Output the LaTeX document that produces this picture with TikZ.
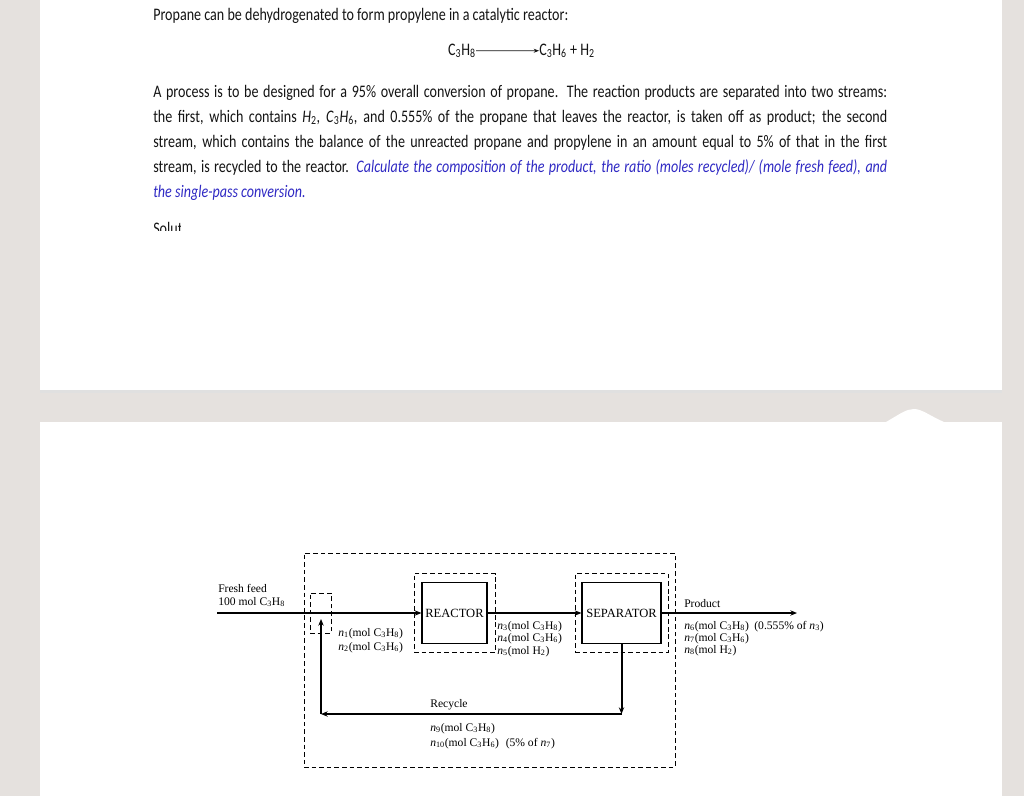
\documentclass[tikz,border=0pt]{standalone}
\usepackage{fontspec}
\setmainfont{Liberation Serif}
\newfontfamily\probfont[FakeStretch=0.8]{Carlito}
\usetikzlibrary{arrows.meta, positioning}

\definecolor{pagegray}{RGB}{229,225,222}
\definecolor{askblue}{RGB}{48,42,196}
\definecolor{inkgray}{RGB}{20,20,20}

\newcommand{\nm}[1]{\textit{n}\textsubscript{#1}}
\newcommand{\propane}{C\textsubscript{3}H\textsubscript{8}}
\newcommand{\propene}{C\textsubscript{3}H\textsubscript{6}}
\newcommand{\hydro}{H\textsubscript{2}}

\begin{document}
\begin{tikzpicture}[
    x=0.75pt, y=-0.75pt,
    unit/.style={rectangle, draw, line width=0.9pt, minimum height=45.75pt,
                inner sep=0pt, font=\fontsize{9.4}{10}\selectfont},
    envelope/.style={rectangle, draw, dash pattern=on 3.5pt off 2.2pt,
                line width=0.7pt, inner sep=0pt},
    stream/.style={line width=1.5pt, -{Stealth[length=5pt, width=4pt]}},
    lbl/.style={anchor=base west, inner sep=0pt, align=left,
                font=\fontsize{8.7}{10}\selectfont},
    toptext/.style={anchor=base west, inner sep=0pt, text=inkgray,
                font=\probfont\fontsize{13.2}{15}\selectfont}
]

% === PAGE ===
\fill[pagegray] (0,0) rectangle (1024,796);
\fill[white] (40,0) rectangle (1002,390);
\fill[black!12] (40,390) rectangle (1002,392.5);
\fill[white] (40,422) rectangle (1002,796);
\fill[white] (886,422) .. controls (900,414) and (906,409) .. (914,409)
    .. controls (922,409) and (930,416) .. (944,422) -- cycle;

% === PROBLEM TEXT ===
\node[toptext] (intro) at (153,20) {Propane can be dehydrogenated to form propylene in a catalytic reactor:};
\node[toptext, anchor=base east] (reactant) at (476,55) {\propane};
\node[toptext] (products) at (539,55) {\propene{} + \hydro};
\draw[inkgray, line width=0.5pt, -{Stealth[length=4pt, width=3pt]}] (reactant.east) -- (products.west);

\node[toptext] (line1) at (153,97) {\makebox[550.5pt][s]{A process is to be designed for a 95\% overall conversion of propane. The reaction products are separated into two streams:}};
\node[toptext] (line2) at (153,122) {\makebox[550.5pt][s]{the first, which contains \textit{H}\textsubscript{2}, \textit{C}\textsubscript{3}\textit{H}\textsubscript{6}, and 0.555\% of the propane that leaves the reactor, is taken off as product; the second}};
\node[toptext] (line3) at (153,147) {\makebox[550.5pt][s]{stream, which contains the balance of the unreacted propane and propylene in an amount equal to 5\% of that in the first}};
\node[toptext] (line4) at (153,172) {\makebox[550.5pt][s]{stream, is recycled to the reactor. \textcolor{askblue}{\itshape Calculate the composition of the product, the ratio (moles recycled)/ (mole fresh feed), and}}};
\node[toptext, text=askblue] (line5) at (153,197) {\itshape the single-pass conversion.};

\begin{scope}
  \clip (140,215) rectangle (180,230.5);
  \node[toptext] (solution) at (153,234) {Solution:};
\end{scope}

% === FLOWCHART ===
\node[envelope, minimum width=278.25pt, minimum height=160.5pt] (overall) at (489.5,660) {};
\node[envelope, minimum width=15.75pt, minimum height=30pt] (mixbound) at (320.5,613) {};
\node[unit, minimum width=48.75pt] (reactor) at (454.5,613) {REACTOR};
\node[envelope, minimum width=60.75pt, minimum height=59.25pt] (reactorbound) at (reactor) {};
\node[unit, minimum width=59.25pt] (separator) at (621.5,613) {SEPARATOR};
\node[envelope, minimum width=69.75pt, minimum height=59.25pt] (separatorbound) at (separator) {};

\coordinate (feed) at (217,613);
\coordinate (prod) at (797,613);
\coordinate (rcright) at (621.5,714);
\coordinate (rcleft) at (321,714);
\coordinate (mixin) at (321,619);

% === STREAMS ===
\draw[stream] (feed) -- (reactor.west);
\draw[stream] (reactor) -- (separator);
\draw[stream] (separator) -- (prod);
\draw[stream] (separator.south) -- (rcright);
\draw[stream] (rcright) -- (rcleft);
\draw[stream] (rcleft) -- (mixin);

% === LABELS ===
% multi-line labels sit on the baseline of their last line
\node[lbl] (feedlbl) at (218,605) {Fresh feed\\[-0.3pt]100 mol \propane};
\node[lbl] (mixlbl) at (338,650) {\nm{1}(mol \propane)\\[0.4pt]\nm{2}(mol \propene)};
\node[lbl] (rxlbl) at (497,654) {\nm{3}(mol \propane)\\[-0.7pt]\nm{4}(mol \propene)\\[-0.7pt]\nm{5}(mol \hydro)};
\node[lbl] (prodlbl) at (684,607) {Product};
\node[lbl] (prodcomp) at (684,653) {\nm{6}(mol \propane)\hspace{4pt}(0.555\% of \nm{3})\\[-1.2pt]\nm{7}(mol \propene)\\[-1.2pt]\nm{8}(mol \hydro)};
\node[lbl] (rcylbl) at (430,707) {Recycle};
\node[lbl] (rcycomp) at (430,746) {\nm{9}(mol \propane)\\[1.2pt]\nm{10}(mol \propene)\hspace{5pt}(5\% of \nm{7})};

\end{tikzpicture}
\end{document}
